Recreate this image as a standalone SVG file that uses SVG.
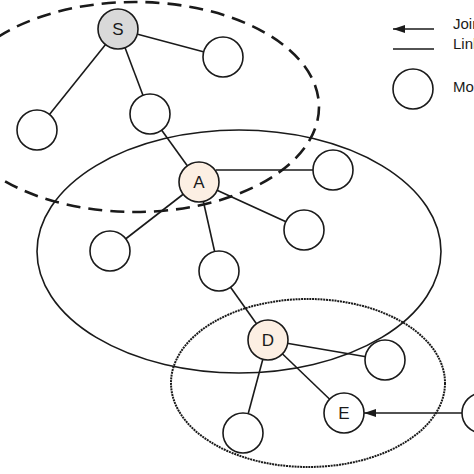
<svg xmlns="http://www.w3.org/2000/svg" width="474" height="474" viewBox="0 0 474 474">
<style>
.n{fill:#fff;stroke:#1a1a1a;stroke-width:1.6}
.e{stroke:#1a1a1a;stroke-width:1.6;fill:none}
.t{font-family:"Liberation Sans",Arial,sans-serif;font-size:17px;fill:#1a1a1a;text-anchor:middle}
.lt{font-family:"Liberation Sans",Arial,sans-serif;font-size:15px;fill:#1a1a1a}
</style>
<defs>
<marker id="ah" markerWidth="12" markerHeight="8" refX="12" refY="4" orient="auto" markerUnits="userSpaceOnUse">
<path d="M0,0 L12,4 L0,8 Z" fill="#1a1a1a"/>
</marker>
</defs>
<rect width="474" height="474" fill="#fff"/>
<g id="regions">
<ellipse cx="135" cy="107" rx="184" ry="105" fill="none" stroke="#1a1a1a" stroke-width="2.6" stroke-dasharray="14 8"/>
<ellipse cx="239" cy="251.5" rx="202" ry="121.5" fill="none" stroke="#1a1a1a" stroke-width="1.6"/>
<ellipse cx="308" cy="383" rx="137" ry="84" fill="none" stroke="#1a1a1a" stroke-width="2" stroke-dasharray="2 0.8"/>
</g>
<g id="connectors">
<line class="e" x1="118" y1="29" x2="223" y2="57"/>
<line class="e" x1="118" y1="29" x2="37" y2="130"/>
<line class="e" x1="118" y1="29" x2="150" y2="114"/>
<line class="e" x1="150" y1="114" x2="199" y2="182"/>
<line class="e" x1="216" y1="170" x2="333" y2="170"/>
<line class="e" x1="199" y1="182" x2="304" y2="230"/>
<line class="e" x1="199" y1="182" x2="110" y2="251"/>
<line class="e" x1="199" y1="182" x2="219" y2="271"/>
<line class="e" x1="219" y1="271" x2="268" y2="340"/>
<line class="e" x1="268" y1="340" x2="385" y2="360"/>
<line class="e" x1="268" y1="340" x2="344" y2="413"/>
<line class="e" x1="268" y1="340" x2="243" y2="433"/>
<line class="e" x1="462" y1="413" x2="364" y2="413" marker-end="url(#ah)"/>
</g>
<g id="n1"><circle class="n" cx="223" cy="57" r="20"/></g>
<g id="n2"><circle class="n" cx="37" cy="130" r="20"/></g>
<g id="n3"><circle class="n" cx="150" cy="114" r="20"/></g>
<g id="n4"><circle class="n" cx="333" cy="170" r="20"/></g>
<g id="n5"><circle class="n" cx="304" cy="230" r="20"/></g>
<g id="n6"><circle class="n" cx="110" cy="251" r="20"/></g>
<g id="n7"><circle class="n" cx="219" cy="271" r="20"/></g>
<g id="n8"><circle class="n" cx="385" cy="360" r="20"/></g>
<g id="n9"><circle class="n" cx="243" cy="433" r="20"/></g>
<g id="n10"><circle class="n" cx="482" cy="413" r="20"/></g>
<g id="S"><circle class="n" cx="118" cy="29" r="20" style="fill:#d9d9d9"/><text class="t" x="118" y="35">S</text></g>
<g id="A"><circle class="n" cx="199" cy="182" r="20" style="fill:#fcefe3"/><text class="t" x="199" y="188">A</text></g>
<g id="D"><circle class="n" cx="268" cy="340" r="20" style="fill:#fcefe3"/><text class="t" x="268" y="346">D</text></g>
<g id="E"><circle class="n" cx="344" cy="413" r="20"/><text class="t" x="344" y="419">E</text></g>
<g id="legend">
<line class="e" x1="434" y1="29" x2="393" y2="29" marker-end="url(#ah)"/>
<line class="e" x1="393" y1="49" x2="434" y2="49"/>
<circle class="n" cx="413" cy="89" r="20"/>
<text class="lt" x="453" y="29">Join request</text>
<text class="lt" x="453" y="49">Link</text>
<text class="lt" x="453" y="92">Mobile node</text>
</g>
</svg>
